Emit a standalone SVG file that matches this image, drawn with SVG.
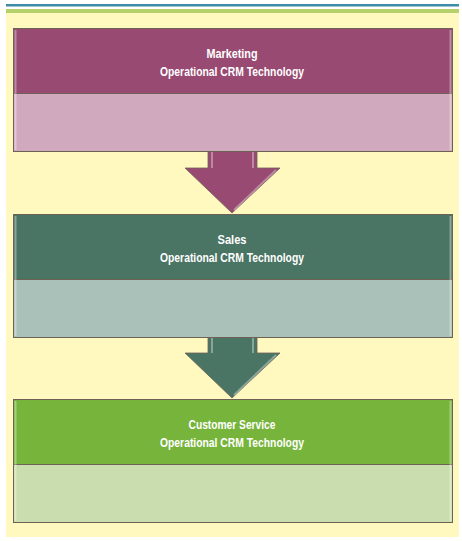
<svg xmlns="http://www.w3.org/2000/svg" width="462" height="541" viewBox="0 0 462 541">
<style>
.t{font-family:"Liberation Sans",Arial,sans-serif;font-weight:bold;font-size:13px;fill:#ffffff;text-anchor:middle}
.box{stroke:#6e6256;stroke-width:1}
.bev{fill:none;stroke:#ffffff;stroke-opacity:0.35;stroke-width:2}
.arr{stroke:#6e6256;stroke-width:0.8}
</style>
<rect x="0" y="0" width="462" height="541" fill="#ffffff"/>
<rect x="6" y="4" width="453" height="2.5" fill="#3f8ca8"/>
<rect x="6" y="9" width="453" height="4" fill="#b6d06b"/>
<rect x="6" y="13" width="453" height="524" fill="#fff9bf"/>
<g id="connectors">
<g id="arrow1">
<polygon class="arr" points="208,151 257,151 257,168 280,168 232,213 185,168 208,168" fill="#984a72"/>
<polyline class="bev" points="212,152 212,168" />
<polyline class="bev" points="253,152 253,168" />
<polyline class="bev" points="276,170 234,210" />
</g>
<g id="arrow2">
<polygon class="arr" points="208,337 257,337 257,353 280,353 232,398 185,353 208,353" fill="#4a7565"/>
<polyline class="bev" points="212,338 212,353" />
<polyline class="bev" points="253,338 253,353" />
<polyline class="bev" points="276,355 234,395" />
</g>
</g>
<g id="marketing">
<rect class="box" x="13.5" y="28.5" width="439" height="65" fill="#984a72"/>
<rect class="box" x="13.5" y="93.5" width="439" height="58" fill="#d1a9be"/>
<line class="bev" x1="15.5" y1="30" x2="15.5" y2="150"/>
<line class="bev" x1="450.5" y1="30" x2="450.5" y2="150"/>
<text class="t" x="232" y="58" textLength="51" lengthAdjust="spacingAndGlyphs">Marketing</text>
<text class="t" x="232" y="76" textLength="144" lengthAdjust="spacingAndGlyphs">Operational CRM Technology</text>
</g>
<g id="sales">
<rect class="box" x="13.5" y="214.5" width="439" height="65" fill="#4a7565"/>
<rect class="box" x="13.5" y="279.5" width="439" height="58" fill="#a9c1b8"/>
<line class="bev" x1="15.5" y1="216" x2="15.5" y2="336"/>
<line class="bev" x1="450.5" y1="216" x2="450.5" y2="336"/>
<text class="t" x="232" y="244" textLength="29" lengthAdjust="spacingAndGlyphs">Sales</text>
<text class="t" x="232" y="262" textLength="144" lengthAdjust="spacingAndGlyphs">Operational CRM Technology</text>
</g>
<g id="customer-service">
<rect class="box" x="13.5" y="399.5" width="439" height="65" fill="#77b43c"/>
<rect class="box" x="13.5" y="464.5" width="439" height="58" fill="#c9ddae"/>
<line class="bev" x1="15.5" y1="401" x2="15.5" y2="521"/>
<line class="bev" x1="450.5" y1="401" x2="450.5" y2="521"/>
<text class="t" x="232" y="429" textLength="87" lengthAdjust="spacingAndGlyphs">Customer Service</text>
<text class="t" x="232" y="447" textLength="144" lengthAdjust="spacingAndGlyphs">Operational CRM Technology</text>
</g>
</svg>
